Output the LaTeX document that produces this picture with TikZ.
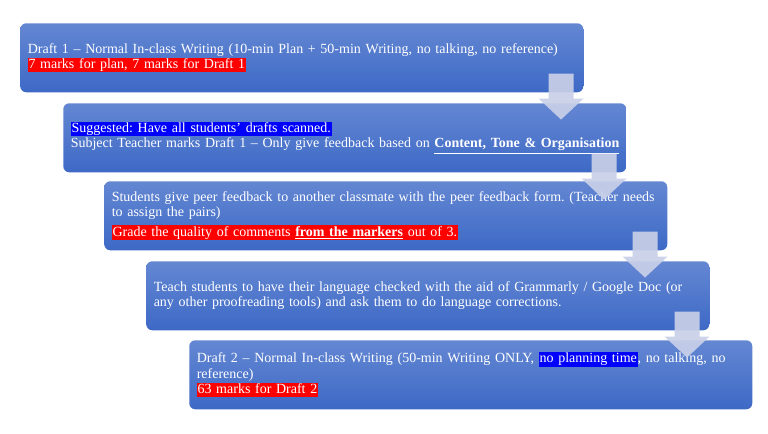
\documentclass[tikz,border=0pt]{standalone}
\usepackage{fontspec}
\setmainfont{Liberation Serif}
\usepackage{xcolor}
\usetikzlibrary{calc}
\frenchspacing

\definecolor{boxtop}{HTML}{6487D2}
\definecolor{boxbot}{HTML}{3D69C6}
\definecolor{arrowfill}{HTML}{C9D0E8}

\newcommand{\hlred}[1]{{\setlength{\fboxsep}{0.6pt}\colorbox{red}{\vphantom{Ag(}#1}}}
\newcommand{\hlblue}[1]{{\setlength{\fboxsep}{0.6pt}\colorbox{blue}{\vphantom{Ag(}#1}}}
\newcommand{\ulbf}[1]{\underline{\textbf{#1}}}

\tikzset{
  stepbox/.style={rectangle, rounded corners=4.5pt, top color=boxtop, bottom color=boxbot, anchor=north west,
    minimum width=422.25pt, minimum height=51.75pt, text width=411pt, inner xsep=5.6pt,
    align=left, text=white, font=\fontsize{10.5}{11.5}\selectfont},
  downarrow/.style={fill=arrowfill, opacity=0.92}
}

\begin{document}
\begin{tikzpicture}[x=0.75pt, y=-0.75pt]
  \useasboundingbox (0,0) rectangle (768,433);

  \node[stepbox] (draftone) at (20,23) {Draft 1 – Normal In-class Writing (10-min Plan + 50-min Writing, no talking, no reference)\\
    \hlred{7 marks for plan, 7 marks for Draft 1}};
  \node[stepbox] (marking) at (63,103) {\hlblue{Suggested: Have all students’ drafts scanned.}\\
    \mbox{Subject Teacher marks Draft 1 – Only give feedback based on \ulbf{Content, Tone \& Organisation}}};
  \node[stepbox] (peer) at (104,181) {Students give peer feedback to another classmate with the peer feedback form. (Teacher needs\\
    to assign the pairs)\\[3pt]
    \hlred{Grade the quality of comments \ulbf{from the markers} out of 3.}};
  \node[stepbox] (language) at (146,261) {Teach students to have their language checked with the aid of Grammarly / Google Doc (or\\
    any other proofreading tools) and ask them to do language corrections.};
  \node[stepbox] (drafttwo) at (189,340) {Draft 2 – Normal In-class Writing (50-min Writing ONLY, \hlblue{no planning time}, no talking, no\\
    reference)\\
    \hlred{63 marks for Draft 2}};

  % block arrows between the steps
  \foreach \a in {draftone, marking, peer, language}
    \fill[downarrow] ($(\a.south east)+(-35,-19)$) -- ($(\a.south east)+(-35,6)$) -- ($(\a.south east)+(-45,6)$)
      -- ($(\a.south east)+(-22.5,27)$) -- ($(\a.south east)+(0,6)$) -- ($(\a.south east)+(-10,6)$)
      -- ($(\a.south east)+(-10,-19)$) -- cycle;
\end{tikzpicture}
\end{document}
